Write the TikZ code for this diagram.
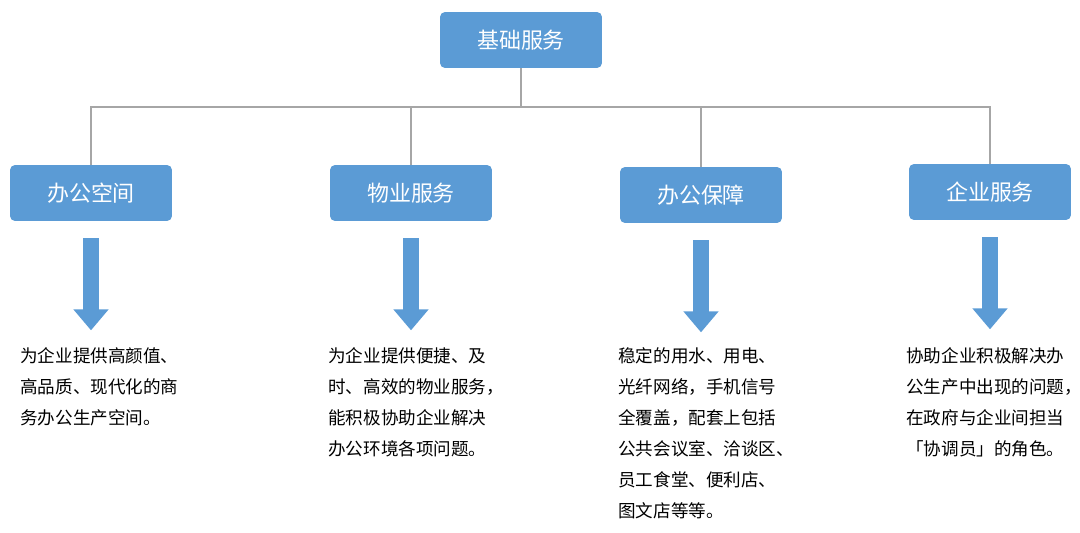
\documentclass[tikz,border=0pt]{standalone}
\usepackage{fontspec}
\setmainfont{Noto Sans CJK SC}
\usetikzlibrary{arrows.meta}
\definecolor{boxblue}{HTML}{5B9BD5}
\definecolor{linegray}{HTML}{A6A6A6}
\begin{document}
\begin{tikzpicture}[x=0.02cm,y=-0.02cm,
box/.style={
draw=none,
fill=boxblue,
rounded corners=1mm,
minimum width=3.24cm,
minimum height=1.12cm,
text=white,
font=\fontsize{12.5}{15}\selectfont,
},
link/.style={
draw=linegray,
line width=0.6pt,
},
down/.style={
draw=boxblue,
line width=0.32cm,
-{Triangle[width=0.68cm,length=0.42cm]},
},
desc/.style={
anchor=north west,
align=left,
inner sep=0pt,
font=\fontsize{10}{17.7}\selectfont,
}]
\useasboundingbox (0,0) rectangle (1080,533);

%top box
\node[box](base)at(521,40){基础服务};
\node[box](office)at(91,193){办公空间};
\node[box](estate)at(411,193){物业服务};
\node[box](support)at(701,195){办公保障};
\node[box](enterprise)at(990,192){企业服务};

%links
\coordinate(bus)at(521,107);
\draw[link](base.south)--(bus);
\foreach \n in {office,estate,support,enterprise}
\draw[link](bus)-|(\n.north);

%arrows
\foreach \n in {office,estate,support,enterprise}
\draw[down]([yshift=-0.34cm]\n.south)--++(0,92);

%texts
\node[desc](t1)at(20,347){为企业提供高颜值、\\高品质、现代化的商\\务办公生产空间。};
\node[desc](t2)at(328,347){为企业提供便捷、及\\时、高效的物业服务，\\能积极协助企业解决\\办公环境各项问题。};
\node[desc](t3)at(618,347){稳定的用水、用电、\\光纤网络，手机信号\\全覆盖，配套上包括\\公共会议室、洽谈区、\\员工食堂、便利店、\\图文店等等。};
\node[desc](t4)at(906,347){协助企业积极解决办\\公生产中出现的问题，\\在政府与企业间担当\\「协调员」的角色。};
\end{tikzpicture}
\end{document}
